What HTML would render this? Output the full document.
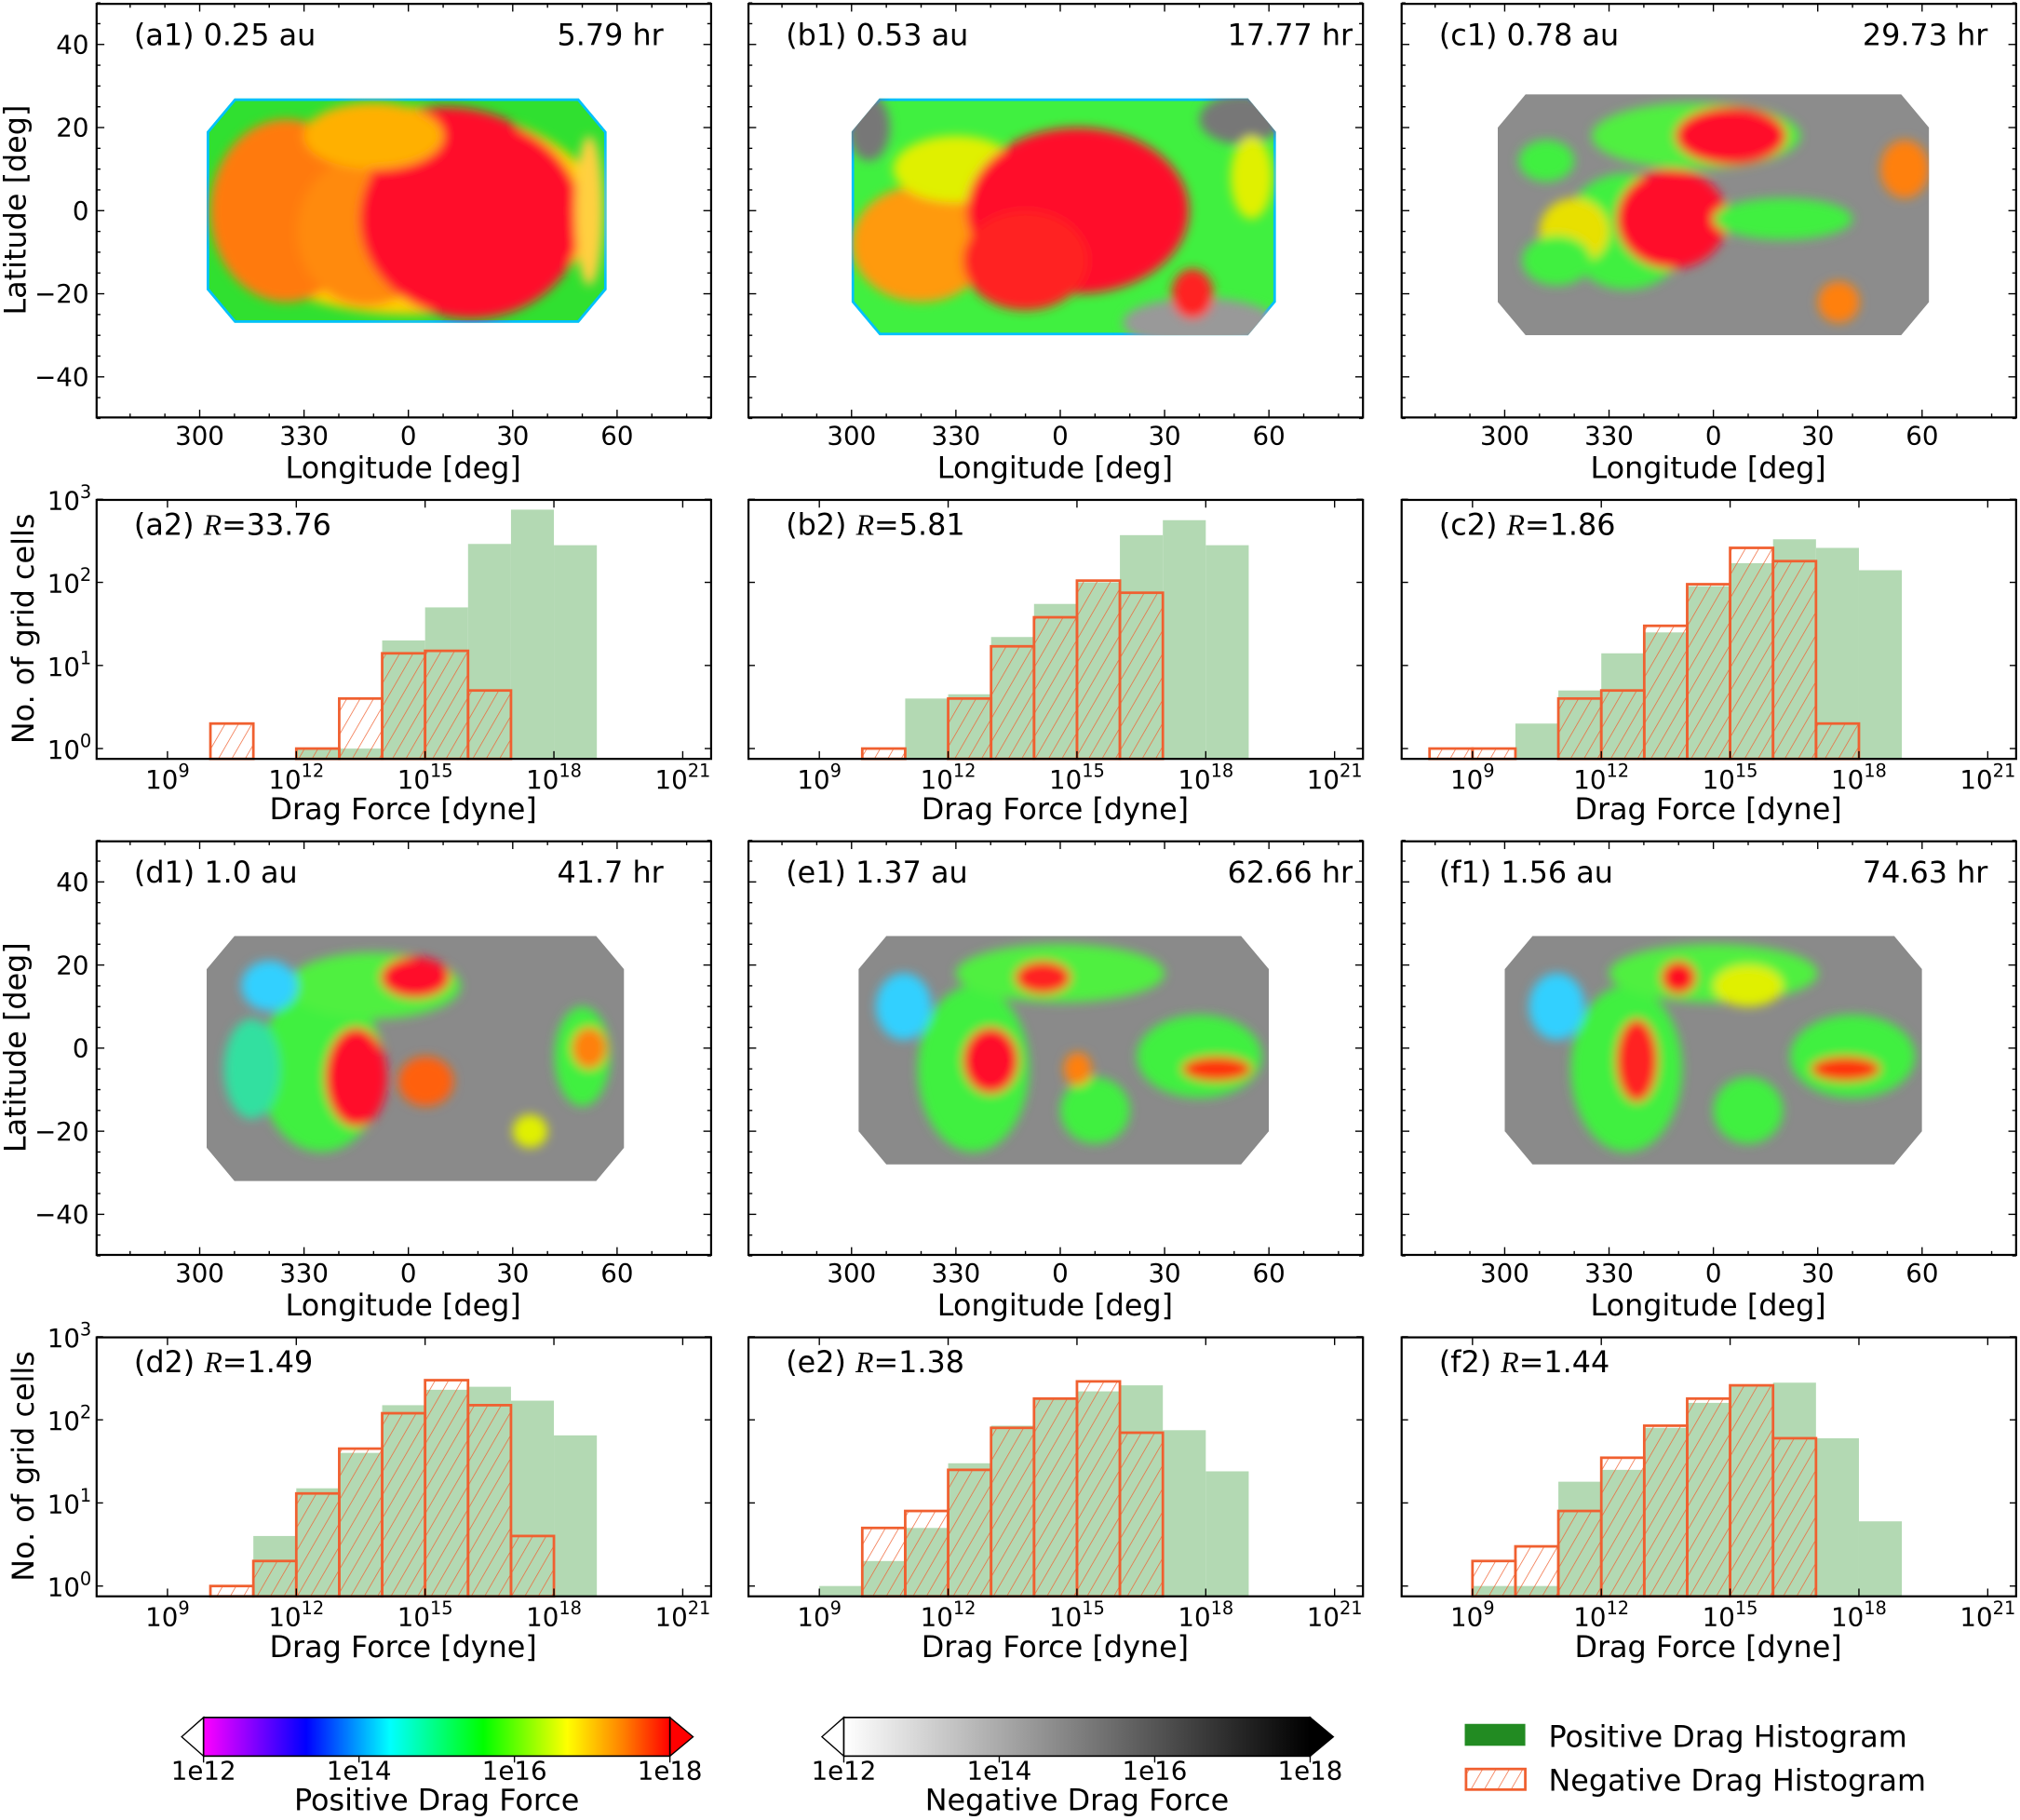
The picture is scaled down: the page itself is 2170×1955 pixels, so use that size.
<!DOCTYPE html>
<html><head><meta charset="utf-8"><style>
html,body{margin:0;padding:0;background:#fff;}
svg{display:block;}
text{font-family:"DejaVu Sans","Liberation Sans",sans-serif;fill:#000;}
</style></head><body>
<svg id="s" xmlns="http://www.w3.org/2000/svg" width="2170" height="1955" viewBox="0 0 1568 1412.6" preserveAspectRatio="none">
<defs>
<filter id="bl" x="-10%" y="-10%" width="120%" height="120%"><feGaussianBlur stdDeviation="4"/></filter>
<pattern id="hat" patternUnits="userSpaceOnUse" width="9" height="9" patternTransform="rotate(30)">
<line x1="0" y1="0" x2="0" y2="9" stroke="#f06030" stroke-width="1"/></pattern>
<linearGradient id="gp" x1="0" x2="1" y1="0" y2="0">
<stop offset="0" stop-color="#ff00ff"/><stop offset="0.22" stop-color="#0000ff"/><stop offset="0.4" stop-color="#00ffff"/><stop offset="0.6" stop-color="#00ff00"/><stop offset="0.78" stop-color="#ffff00"/><stop offset="0.9" stop-color="#ff8000"/><stop offset="1" stop-color="#ff0000"/></linearGradient>
<linearGradient id="gn" x1="0" x2="1" y1="0" y2="0"><stop offset="0" stop-color="#fff"/><stop offset="1" stop-color="#000"/></linearGradient>
</defs>
<g id="g"></g>
</svg>
<script>
var g=document.getElementById('g'),h='';
function T(x,y,s,fs,anc,extra){h+='<text x="'+x+'" y="'+y+'" font-size="'+(fs||18)+'" text-anchor="'+(anc||'middle')+'" '+(extra||'')+'>'+s+'</text>';}
var cols=[75,581,1088],W=477;
var mapRows=[3,653],histRows=[388,1038];
var tOff=[440,469,455,440,469,455];
var maps=[
 {lab:'(a1) 0.25 au',t:'5.79 hr',lon:[-58,57],lat:[-27,27],base:'#30e030',blobs:[[0,0,55,25,'#ffd000'],[-35,0,22,22,'#ff7a10'],[-12,-5,20,18,'#ff8a10'],[18,-2,32,24,'#ff0a2a'],[10,15,25,10,'#ff0a2a'],[-10,18,20,8,'#ffb000'],[52,0,4,18,'#ffd040']]},
 {lab:'(b1) 0.53 au',t:'17.77 hr',lon:[-60,62],lat:[-30,27],base:'#40f040',blobs:[[52,22,12,6,'#777'],[-55,20,6,8,'#777'],[40,-27,22,6,'#999'],[-40,-8,20,14,'#ff9a10'],[-30,10,18,8,'#e0f000'],[5,0,32,20,'#ff0a2a'],[-10,-12,18,12,'#ff2020'],[38,-20,6,6,'#ff2020'],[55,8,6,10,'#e0f000']]},
 {lab:'(c1) 0.78 au',t:'29.73 hr',lon:[-62,62],lat:[-30,28],base:'#8c8c8c',blobs:[[-25,-5,18,14,'#40f040'],[-5,18,30,8,'#50f040'],[-12,-2,16,12,'#ff0a2a'],[5,18,16,7,'#ff0a2a'],[-40,-5,10,8,'#e8e000'],[20,-2,20,5,'#40f040'],[55,10,7,7,'#ff8010'],[36,-22,6,5,'#ff8010'],[-48,12,8,5,'#40f040'],[-45,-12,10,6,'#40f040']]},
 {lab:'(d1) 1.0 au',t:'41.7 hr',lon:[-58,62],lat:[-32,27],base:'#8a8a8a',blobs:[[-25,-5,18,20,'#40f040'],[-10,15,25,8,'#50f040'],[-15,-7,9,12,'#ff0a2a'],[2,17,10,5,'#ff0a2a'],[-45,-5,8,12,'#30e0a0'],[5,-8,8,6,'#ff6010'],[50,-2,8,12,'#40f040'],[52,0,5,5,'#ff8010'],[35,-20,5,4,'#e0f000'],[-40,15,8,6,'#30d0ff']]},
 {lab:'(e1) 1.37 au',t:'62.66 hr',lon:[-58,60],lat:[-28,27],base:'#8a8a8a',blobs:[[-25,-5,16,20,'#40f040'],[0,18,30,7,'#50f040'],[-20,-3,8,8,'#ff0a2a'],[-5,17,8,4,'#ff2020'],[40,-2,18,10,'#40f040'],[45,-5,10,3,'#ff3010'],[-45,10,8,8,'#30d0ff'],[10,-15,10,8,'#40f040'],[5,-5,4,4,'#ff8010']]},
 {lab:'(f1) 1.56 au',t:'74.63 hr',lon:[-60,60],lat:[-28,27],base:'#8a8a8a',blobs:[[-25,-5,16,20,'#40f040'],[0,18,30,7,'#50f040'],[-22,-3,6,10,'#ff2020'],[-10,17,5,4,'#ff1020'],[40,-2,18,10,'#40f040'],[38,-5,10,3,'#ff3010'],[-45,10,8,8,'#30d0ff'],[10,-15,10,8,'#40f040'],[10,15,10,5,'#e0f000']]}
];
var hists=[
 {lab:'(a2)',R:'33.76',gr:{12:1,13:1,14:20,15:50,16:290,17:750,18:280},or:{10:2,12:1,13:4,14:14,15:15,16:5}},
 {lab:'(b2)',R:'5.81',gr:{11:4,12:4.5,13:22,14:55,15:100,16:370,17:560,18:280},or:{10:1,12:4,13:17,14:38,15:105,16:75}},
 {lab:'(c2)',R:'1.86',gr:{10:2,11:5,12:14,13:25,14:90,15:170,16:330,17:260,18:140},or:{8:1,9:1,11:4,12:5,13:30,14:95,15:260,16:180,17:2}},
 {lab:'(d2)',R:'1.49',gr:{11:4,12:15,13:40,14:150,15:230,16:250,17:170,18:65},or:{10:1,11:2,12:13,13:45,14:120,15:300,16:150,17:4}},
 {lab:'(e2)',R:'1.38',gr:{9:1,10:2,11:5,12:30,13:85,14:175,15:220,16:260,17:75,18:24},or:{10:5,11:8,12:25,13:80,14:180,15:290,16:70}},
 {lab:'(f2)',R:'1.44',gr:{9:1,10:1,11:18,12:25,13:80,14:160,15:260,16:280,17:60,18:6},or:{9:2,10:3,11:8,12:35,13:85,14:180,15:260,16:60}}
];
for(var i=0;i<6;i++){
 var X=cols[i%3],Y=mapRows[Math.floor(i/3)],m=maps[i];
 var cx=X+242,cy=Y+160.5;
 function px(l){return cx+l*2.7;} function py(a){return cy-a*3.225;}
 var L0=m.lon[0],L1=m.lon[1],A0=m.lat[0],A1=m.lat[1],c=8;
 var pts=[[L0+c,A1],[L1-c,A1],[L1,A1-c],[L1,A0+c],[L1-c,A0],[L0+c,A0],[L0,A0+c],[L0,A1-c]].map(function(p){return px(p[0])+','+py(p[1]);}).join(' ');
 var cid='c'+i;
 h+='<clipPath id="'+cid+'"><polygon points="'+pts+'"/></clipPath>';
 h+='<g clip-path="url(#'+cid+')"><polygon points="'+pts+'" fill="'+m.base+'"/>';
 if(m.base!='#8a8a8a'&&m.base!='#8c8c8c'){h+='<polygon points="'+pts+'" fill="none" stroke="#00c0ff" stroke-width="4"/>';}
 h+='<g filter="url(#bl)">';
 m.blobs.forEach(function(b){h+='<ellipse cx="'+px(b[0])+'" cy="'+py(b[1])+'" rx="'+b[2]*2.7+'" ry="'+b[3]*3.225+'" fill="'+b[4]+'"/>';});
 h+='</g></g>';
 h+='<rect x="'+X+'" y="'+Y+'" width="'+W+'" height="321" fill="none" stroke="#000" stroke-width="1.6"/>';
 for(var lo=-80;lo<=80;lo+=10){var xx=px(lo);if(xx<X||xx>X+W)continue;var len=(lo%30==0)?6:3;
  h+='<line x1="'+xx+'" y1="'+(Y+321)+'" x2="'+xx+'" y2="'+(Y+321-len)+'" stroke="#000"/><line x1="'+xx+'" y1="'+Y+'" x2="'+xx+'" y2="'+(Y+len)+'" stroke="#000"/>';
  if(lo%30==0&&lo>=-60&&lo<=60)T(xx,Y+342,lo<0?lo+360:lo,20);}
 for(var la=-50;la<=50;la+=5){var yy=py(la);var len=(la%20==0)?6:3;
  h+='<line x1="'+X+'" y1="'+yy+'" x2="'+(X+len)+'" y2="'+yy+'" stroke="#000"/><line x1="'+(X+W)+'" y1="'+yy+'" x2="'+(X+W-len)+'" y2="'+yy+'" stroke="#000"/>';
  if(la%20==0&&i%3==0&&Math.abs(la)<50)T(X-6,yy+7,la<0?'\u2212'+(-la):la,20,'end');}
 T(X+29,Y+32,m.lab,23,'start');T(X+tOff[i],Y+32,m.t,23,'end');
 T(X+238,Y+368,'Longitude [deg]',23);
 if(i%3==0)T(20,Y+160,'Latitude [deg]',23,'middle','transform="rotate(-90 20 '+(Y+160)+')"');
 var HY=histRows[Math.floor(i/3)],hs=hists[i];
 var bx=function(e){return X+55+(e-9)*33.33;};
 var base=HY+193;
 var by=function(v){return base-Math.log10(v)*64.5;};
 var bot=HY+201;
 for(var k in hs.gr){k=+k;h+='<rect x="'+bx(k)+'" y="'+by(hs.gr[k])+'" width="33.33" height="'+(bot-by(hs.gr[k]))+'" fill="#b3d9b3"/>';}
 for(var k in hs.or){k=+k;var yy=by(hs.or[k]);h+='<rect x="'+bx(k)+'" y="'+yy+'" width="33.33" height="'+(bot-yy)+'" fill="url(#hat)" stroke="#f06030" stroke-width="2"/>';}
 h+='<rect x="'+X+'" y="'+HY+'" width="'+W+'" height="'+(bot-HY)+'" fill="none" stroke="#000" stroke-width="1.6"/>';
 for(var e=9;e<=21;e+=3){var xx=bx(e);h+='<line x1="'+xx+'" y1="'+bot+'" x2="'+xx+'" y2="'+(bot-6)+'" stroke="#000"/><line x1="'+xx+'" y1="'+HY+'" x2="'+xx+'" y2="'+(HY+6)+'" stroke="#000"/>';
  T(xx,bot+23,'10<tspan dy="-9" font-size="14">'+e+'</tspan>',20);}
 for(var d=0;d<=3;d++){var yy=base-d*64.5;h+='<line x1="'+X+'" y1="'+yy+'" x2="'+(X+5)+'" y2="'+yy+'" stroke="#000"/><line x1="'+(X+W)+'" y1="'+yy+'" x2="'+(X+W-5)+'" y2="'+yy+'" stroke="#000"/>';
  if(i%3==0)T(X-4,yy+8,'10<tspan dy="-9" font-size="14">'+d+'</tspan>',20,'end');}
 T(X+29,HY+27,hs.lab+' <tspan font-family="Liberation Serif" font-style="italic">R</tspan>='+hs.R,23,'start');
 T(X+238,HY+248,'Drag Force [dyne]',23);
 if(i%3==0)T(26,HY+100,'No. of grid cells',23,'middle','transform="rotate(-90 26 '+(HY+100)+')"');
}
function cb(x0,x1,grad,ltri,rtri,label){
 var y0=1333,y1=1363;
 h+='<polygon points="'+(x0-17)+','+((y0+y1)/2)+' '+x0+','+y0+' '+x0+','+y1+'" fill="'+ltri+'" stroke="#000"/>';
 h+='<polygon points="'+(x1+18)+','+((y0+y1)/2)+' '+x1+','+y0+' '+x1+','+y1+'" fill="'+rtri+'" stroke="#000"/>';
 h+='<rect x="'+x0+'" y="'+y0+'" width="'+(x1-x0)+'" height="'+(y1-y0)+'" fill="url(#'+grad+')" stroke="#000" stroke-width="1.2"/>';
 var labs=['1e12','1e14','1e16','1e18'];
 for(var j=0;j<4;j++){var xx=x0+j*(x1-x0)/3;h+='<line x1="'+xx+'" y1="'+y1+'" x2="'+xx+'" y2="'+(y1+5)+'" stroke="#000"/>';T(xx,y1+18,labs[j],20);}
 T((x0+x1)/2,1405,label,23);
}
cb(158,520,'gp','#fff','#ff0000','Positive Drag Force');
cb(655,1017,'gn','#fff','#000','Negative Drag Force');
h+='<rect x="1137" y="1338" width="47" height="17" fill="#228b22"/>';
T(1202,1356,'Positive Drag Histogram',23,'start');
h+='<rect x="1138" y="1373" width="46" height="16" fill="url(#hat)" stroke="#f06030" stroke-width="2"/>';
T(1202,1390,'Negative Drag Histogram',23,'start');
g.innerHTML=h;
</script>
</body></html>
